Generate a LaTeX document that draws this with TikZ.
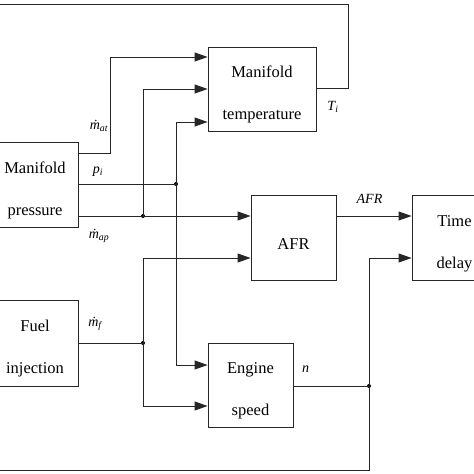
\documentclass[tikz,border=0pt]{standalone}
\usepackage{fontspec}
\setmainfont{Liberation Serif}
\usetikzlibrary{arrows.meta}
\newcommand{\boxtop}{\rule{0pt}{23pt}}
\begin{document}
\begin{tikzpicture}[x=1pt,y=-1pt,
  blk/.style={draw=black!85, line width=0.9pt, rectangle, inner sep=0pt, align=center, font=\fontsize{16.5}{42}\selectfont},
  wire/.style={draw=black!85, line width=1pt},
  arr/.style={wire, -{Triangle[length=13pt,width=9pt]}},
  lbl/.style={font=\fontsize{14}{16}\selectfont\itshape, inner sep=0pt},
  jdot/.style={circle, fill=black, inner sep=0pt, minimum size=4pt}]
\useasboundingbox (0,0) rectangle (474,474);
\fill[white] (0,0) rectangle (474,474);
\clip (0,0) rectangle (474,474);

\node[blk, minimum width=108pt, minimum height=84pt] (mt) at (262,89) {\boxtop Manifold\\temperature};
\node[blk, minimum width=86pt, minimum height=85pt] (mp) at (35,184.5) {\boxtop Manifold\\pressure};
\node[blk, minimum width=85pt, minimum height=85pt] (afr) at (293.5,237.5) {\boxtop AFR};
\node[blk, minimum width=85pt, minimum height=85pt] (td) at (454.5,237.5) {\boxtop Time\\delay};
\node[blk, minimum width=86pt, minimum height=86pt] (fi) at (35,343) {\boxtop Fuel\\injection};
\node[blk, minimum width=85pt, minimum height=84pt] (es) at (250.5,385) {\boxtop Engine\\speed};

\node[jdot] (j1) at (176,184) {};
\node[jdot] (j2) at (143,216) {};
\node[jdot] (j3) at (143,343) {};
\node[jdot] (j4) at (369,386) {};
\coordinate (fbA) at (348,4);
\coordinate (fbEnd) at (0,4);
\coordinate (nEnd) at (0,470);
\coordinate (matc) at (110,153);

% m_at
\draw[arr] (mp.east |- matc) -- (matc) |- (mt.west |- 0,57);
% p_i
\draw[wire] (mp.east |- j1) -- (j1.center);
\draw[arr] (j1.center) |- (mt.west |- 0,122);
\draw[arr] (j1.center) |- (es.west |- 0,365);
% m_ap
\draw[arr] (mp.east |- j2) -- (afr.west |- j2);
\draw[arr] (j2.center) |- (mt.west |- 0,89);
% m_f
\draw[wire] (fi.east |- j3) -- (j3.center);
\draw[arr] (j3.center) |- (afr.west |- 0,258);
\draw[arr] (j3.center) |- (es.west |- 0,406);
% AFR
\draw[arr] (afr.east |- 0,216) -- (td.west |- 0,216);
% n
\draw[wire] (es.east |- j4) -- (j4.center);
\draw[arr] (j4.center) |- (td.west |- 0,258);
\draw[wire] (j4.center) |- (nEnd);
% T_i feedback
\draw[wire] (mt.east |- 0,88) -| (fbA) -- (fbEnd);

\node[lbl] (lat) at (99,126) {ṁ\textsubscript{at}};
\node[lbl] (lpi) at (98,172) {p\textsubscript{i}};
\node[lbl] (lap) at (99,236) {ṁ\textsubscript{ap}};
\node[lbl] (lf) at (95,324) {ṁ\textsubscript{f}};
\node[lbl] (ln) at (305.5,369) {n};
\node[lbl] (lti) at (333,107) {T\textsubscript{i}};
\node[lbl] (lafr) at (369.5,199) {AFR};
\end{tikzpicture}
\end{document}
